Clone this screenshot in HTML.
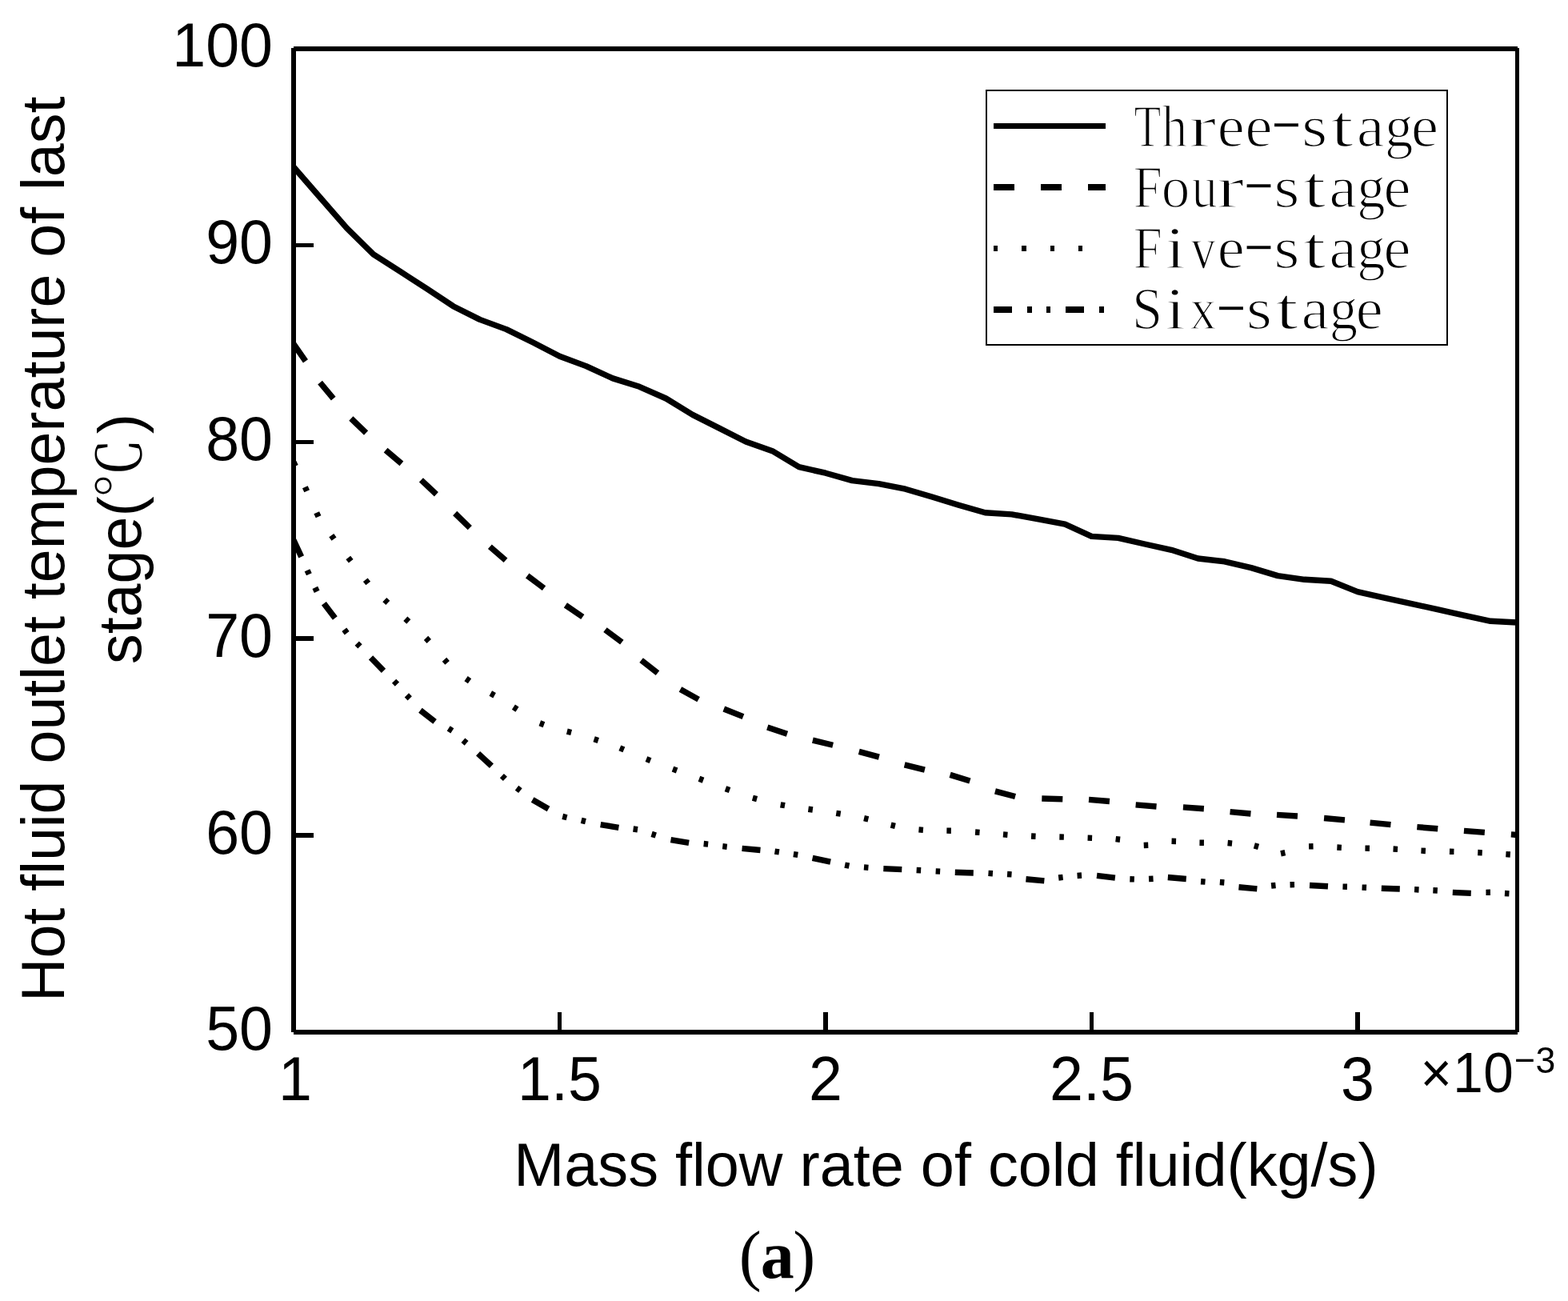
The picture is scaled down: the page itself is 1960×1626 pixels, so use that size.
<!DOCTYPE html>
<html lang="en"><head><meta charset="utf-8">
<title>Hot fluid outlet temperature of last stage vs mass flow rate of cold fluid</title>
<style>
html,body{margin:0;padding:0;background:#fff;}
body{width:1960px;height:1626px;overflow:hidden;}
svg{display:block;}
.sans{font-family:"Liberation Sans",Arial,Helvetica,sans-serif;fill:#000;}
.serif{font-family:"Liberation Serif","Times New Roman",serif;fill:#000;}
.cjk{font-family:"Liberation Sans","Noto Serif CJK SC","Noto Sans CJK SC",sans-serif;}
.ax{stroke:#000;fill:none;}
.cv{stroke:#000;fill:none;stroke-width:7.4;stroke-linejoin:round;stroke-linecap:butt;}
</style></head><body>
<svg width="1960" height="1626" viewBox="0 0 1960 1626">
<rect x="0" y="0" width="1960" height="1626" fill="#fff"/>
<defs><clipPath id="plotarea"><rect x="366" y="61" width="1531" height="1229"/></clipPath></defs>
<g id="curves" clip-path="url(#plotarea)">
<polyline id="three-stage" class="cv" points="367,208.8 400.25,247 433.5,285.1 466.75,317.8 500,339.2 533.25,360.6 566.5,382.7 599.75,399.4 633,411.6 666.25,428 699.5,445.3 732.75,457.6 766,472.9 799.25,483.3 832.5,498 865.75,518.4 899,535.1 932.25,552 965.5,563.7 998.75,583.7 1032,591.2 1065.25,600.6 1098.5,604.7 1131.75,611.2 1165,621 1198.25,631.2 1231.5,640.8 1264.75,642.9 1298,648.9 1331.25,655.1 1364.5,670.4 1397.75,672.4 1431,680 1464.25,687.3 1497.5,698 1530.75,701.8 1564,709.6 1597.25,719.6 1630.5,724.3 1663.75,726.3 1697,739.6 1730.25,747.1 1763.5,754.3 1796.75,761.6 1830,769.2 1863.25,776.3 1896.5,778"/>
<path id="four-stage" class="cv" d="M367 430L381.94 451.28 M400.07 478.22L416.73 498.18 M438.85 522.97L457.55 541.03 M482.09 562.59L501.91 579.41 M526.41 599.92L545.39 617.68 M568.71 641.51L587.29 659.69 M612.38 683.28L632.02 700.32 M659.21 719.48L679.99 735.12 M706.89 756.33L728.31 771.07 M756.46 787.15L777.34 802.65 M801.6 825.04L822 841.16 M850.45 861.47L873.15 874.13 M904.83 885.98L928.97 895.62 M959.25 909.03L983.95 917.17 M1015.87 925.13L1041.13 931.27 M1073.75 939.31L1098.85 946.09 M1130.68 955.89L1155.92 962.11 M1187.58 968.35L1212.42 976.05 M1243.93 988.87L1269.07 995.53 M1302.31 998L1328.29 998.8 M1361.04 999.36L1386.96 1001.44 M1419.64 1005.85L1445.56 1007.95 M1478.93 1008.87L1504.87 1010.73 M1537.55 1014.66L1563.45 1016.94 M1596.02 1018.41L1621.98 1019.99 M1655.05 1022.52L1680.95 1024.88 M1712.56 1028.14L1738.44 1030.66 M1771.35 1033.6L1797.25 1035.8 M1829.94 1038.4L1855.86 1040.4 M1888.87 1042.92L1896.5 1043.5"/>
<path id="five-stage" class="cv" d="M367 577.5L369.32 582.48 M381.34 608.71L383.66 613.69 M395.74 640.81L398.06 645.79 M414.29 669.17L417.51 673.63 M435.27 696.97L438.73 701.23 M456.77 724.77L460.23 729.03 M480.77 749.64L484.83 753.36 M506.81 773.2L510.79 777 M532.53 797.39L536.27 801.41 M555.47 824.25L559.13 828.35 M582.56 848.11L587.04 851.29 M613.29 866.57L618.11 869.23 M641.9 883.7L646.5 886.7 M674.82 903.74L679.98 905.66 M708.78 914.17L714.12 915.53 M742.58 923.8L747.82 925.5 M774.81 934.85L779.89 936.95 M807.94 948.65L813.06 950.65 M840.97 961.15L846.13 963.05 M873.93 973.32L879.07 975.28 M906.91 985.72L912.09 987.58 M940.85 997.22L946.15 998.68 M975.64 1005.78L981.06 1006.72 M1010.42 1011.23L1015.88 1011.97 M1045.28 1016.32L1050.72 1017.18 M1080.03 1022.66L1085.37 1023.94 M1113.63 1031.16L1118.97 1032.44 M1148.46 1036.87L1153.94 1037.33 M1183.35 1038.16L1188.85 1038.24 M1219.06 1040.01L1224.54 1040.39 M1253.96 1042.87L1259.44 1043.33 M1289.05 1044.96L1294.55 1045.24 M1324.35 1046.03L1329.85 1046.17 M1359.6 1047.15L1365.1 1047.35 M1394.62 1048.58L1400.08 1049.22 M1429.75 1056.52L1435.25 1056.28 M1464.55 1051.31L1470.05 1051.49 M1499.45 1053.22L1504.95 1053.28 M1534.61 1053.53L1540.09 1054.07 M1567.81 1056.83L1573.09 1058.37 M1601.01 1066.87L1606.39 1065.73 M1636.05 1057.88L1641.55 1057.72 M1671.35 1059.06L1676.85 1059.34 M1706.45 1060.15L1711.95 1060.25 M1741.55 1061.05L1747.05 1061.35 M1776.45 1063.17L1781.95 1063.43 M1811.95 1064.24L1817.45 1064.36 M1847.25 1065.56L1852.75 1065.84 M1882.36 1067.62L1887.84 1067.98"/>
<path id="six-stage" class="cv" d="M367 675L376.67 695.87 M384.04 712.71L386.36 717.69 M393.84 734.41L396.16 739.39 M404.89 754.24L418.81 772.56 M430.33 786.81L433.67 791.19 M446.18 804.04L450.02 807.96 M463.51 821.83L479.49 838.37 M492.59 851.22L496.41 855.18 M508.37 868.94L512.23 872.86 M525.43 887.73L543.57 901.87 M560.68 910.32L565.32 913.28 M578.93 925.29L583.07 928.91 M597.57 941.68L614.43 957.32 M627.39 969.62L631.41 973.38 M646.01 984.73L650.39 988.07 M665.64 999.44L685.56 1010.96 M703.23 1020.45L708.57 1021.75 M726.63 1025.35L731.97 1026.65 M750.7 1030.7L773.4 1034.4 M791.58 1036.03L797.02 1036.77 M814.58 1042.38L819.82 1044.02 M838.47 1049.54L861.13 1053.46 M879.66 1054.53L885.14 1055.07 M903.27 1057.69L908.73 1058.31 M927.55 1060.32L950.45 1062.48 M968.48 1064.09L973.92 1064.91 M991.88 1067.59L997.32 1068.41 M1015.61 1072.33L1038.09 1077.17 M1056.11 1081.1L1061.49 1082.2 M1079.96 1083.88L1085.44 1084.32 M1104.31 1085.62L1127.29 1086.58 M1145.65 1087.45L1151.15 1087.75 M1169.65 1088.85L1175.15 1089.15 M1193.8 1090.27L1216.8 1090.93 M1235.46 1091.41L1240.94 1091.79 M1259.06 1092.51L1264.54 1092.89 M1282.45 1098.74L1305.35 1100.86 M1323.17 1097.02L1328.63 1096.38 M1346.56 1094.44L1352.04 1094.06 M1371.03 1094.44L1393.87 1097.16 M1412.35 1098.7L1417.85 1098.9 M1436.05 1098.55L1441.55 1098.25 M1459.84 1096.56L1482.76 1098.44 M1501.06 1101.73L1506.54 1102.17 M1524.86 1102.53L1530.34 1102.97 M1548.45 1108.8L1571.35 1110.9 M1589.07 1107.04L1594.53 1106.46 M1612.55 1105.75L1618.05 1105.65 M1637.02 1106.44L1659.98 1107.76 M1678.45 1108.11L1683.95 1108.29 M1702.55 1109.08L1708.05 1109.32 M1726.81 1110.19L1749.79 1111.01 M1768.05 1111.66L1773.55 1111.94 M1791.35 1112.76L1796.85 1113.04 M1815.81 1115.38L1838.79 1116.42 M1857.45 1115.33L1862.95 1115.27 M1880.95 1116.54L1886.45 1116.86"/>
</g>
<g id="axes" class="ax" shape-rendering="crispEdges">
<rect x="364" y="60" width="6" height="1230" fill="#000" stroke="none"/>
<rect x="1894" y="60" width="5" height="1230" fill="#000" stroke="none"/>
<rect x="367" y="58" width="1530" height="6" fill="#000" stroke="none"/>
<rect x="367" y="1287" width="1530" height="6" fill="#000" stroke="none"/>
<rect x="367" y="304" width="25" height="5" fill="#000" stroke="none"/>
<rect x="367" y="550" width="25" height="5" fill="#000" stroke="none"/>
<rect x="367" y="795" width="25" height="6" fill="#000" stroke="none"/>
<rect x="367" y="1041" width="25" height="6" fill="#000" stroke="none"/>
<rect x="697" y="1265" width="5" height="25" fill="#000" stroke="none"/>
<rect x="1029" y="1265" width="6" height="25" fill="#000" stroke="none"/>
<rect x="1362" y="1265" width="5" height="25" fill="#000" stroke="none"/>
<rect x="1694" y="1265" width="6" height="25" fill="#000" stroke="none"/>
</g>
<g id="ticklabels" class="sans">
<text transform="translate(341,83) scale(1,1.025)" font-size="75.4" text-anchor="end">100</text>
<text transform="translate(341,328.9) scale(1,1.025)" font-size="75.4" text-anchor="end">90</text>
<text transform="translate(341,574.8) scale(1,1.025)" font-size="75.4" text-anchor="end">80</text>
<text transform="translate(341,820.6) scale(1,1.025)" font-size="75.4" text-anchor="end">70</text>
<text transform="translate(341,1066.5) scale(1,1.025)" font-size="75.4" text-anchor="end">60</text>
<text transform="translate(341,1312.4) scale(1,1.025)" font-size="75.4" text-anchor="end">50</text>
<text transform="translate(369,1375) scale(1,1.025)" font-size="75.4" text-anchor="middle">1</text>
<text transform="translate(699.5,1375) scale(1,1.025)" font-size="75.4" text-anchor="middle">1.5</text>
<text transform="translate(1032,1375) scale(1,1.025)" font-size="75.4" text-anchor="middle">2</text>
<text transform="translate(1364.5,1375) scale(1,1.025)" font-size="75.4" text-anchor="middle">2.5</text>
<text transform="translate(1697,1375) scale(1,1.025)" font-size="75.4" text-anchor="middle">3</text>
<text transform="translate(0,1365) scale(1,1.055)" font-size="67.5" x="1775.4 1816.3 1854.2">×10<tspan x="1893 1919.5" dy="-22.9" font-size="44.6">−3</tspan></text>
</g>
<g id="axislabels" class="sans">
<text transform="translate(1182.4,1482)" font-size="75.65" text-anchor="middle">Mass flow rate of cold fluid(kg/s)</text>
<text transform="translate(79.8,686.3) rotate(-90)" font-size="75.4" text-anchor="middle">Hot fluid outlet temperature of last</text>
<text transform="translate(176.4,673.6) rotate(-90)" font-size="75.4" text-anchor="middle" aria-label="stage(℃)">stage(<tspan class="cjk" dx="-2.5">℃</tspan><tspan dx="5.3">)</tspan></text>
</g>
<g id="legend">
<rect x="1233" y="113" width="576" height="318" fill="#fff" stroke="#000" stroke-width="2" shape-rendering="crispEdges"/>
<g stroke="#000" fill="none" shape-rendering="crispEdges">
<line x1="1242" y1="157.5" x2="1382" y2="157.5" stroke-width="7"/>
<line x1="1242" y1="234" x2="1382" y2="234" stroke-width="8" stroke-dasharray="26 33"/>
<line x1="1242" y1="310.5" x2="1382" y2="310.5" stroke-width="7" stroke-dasharray="5.3 30"/>
<line x1="1242" y1="387" x2="1382" y2="387" stroke-width="8" stroke-dasharray="23 19 5.5 18 5.5 19"/>
</g>
<g class="serif" font-size="73" stroke="#fff" stroke-width="1.6" paint-order="fill stroke" stroke-linejoin="round">
<text y="182.8" aria-label="Three-stage"><tspan x="1417.58" textLength="33.76" lengthAdjust="spacingAndGlyphs">T</tspan><tspan x="1452.26" textLength="31.8" lengthAdjust="spacingAndGlyphs">h</tspan><tspan x="1486.11" textLength="34.42" lengthAdjust="spacingAndGlyphs">r</tspan><tspan x="1521.56" textLength="34.35" lengthAdjust="spacingAndGlyphs">e</tspan><tspan x="1556.16" textLength="34.35" lengthAdjust="spacingAndGlyphs">e</tspan><tspan x="1587.12" dy="-8.5" textLength="41.84" lengthAdjust="spacingAndGlyphs">-</tspan><tspan x="1626.97" dy="8.5" textLength="32.35" lengthAdjust="spacingAndGlyphs">s</tspan><tspan x="1663.37" textLength="28.76" lengthAdjust="spacingAndGlyphs">t</tspan><tspan x="1695.82" textLength="34.88" lengthAdjust="spacingAndGlyphs">a</tspan><tspan x="1730.93" textLength="35.43" lengthAdjust="spacingAndGlyphs">g</tspan><tspan x="1763.76" textLength="34.35" lengthAdjust="spacingAndGlyphs">e</tspan></text>
<text y="258.9" aria-label="Four-stage"><tspan x="1416.71" textLength="36.05" lengthAdjust="spacingAndGlyphs">F</tspan><tspan x="1451.87" textLength="35.56" lengthAdjust="spacingAndGlyphs">o</tspan><tspan x="1489.53" textLength="32.3" lengthAdjust="spacingAndGlyphs">u</tspan><tspan x="1520.71" textLength="34.42" lengthAdjust="spacingAndGlyphs">r</tspan><tspan x="1552.52" dy="-8.5" textLength="41.84" lengthAdjust="spacingAndGlyphs">-</tspan><tspan x="1592.37" dy="8.5" textLength="32.35" lengthAdjust="spacingAndGlyphs">s</tspan><tspan x="1628.77" textLength="28.76" lengthAdjust="spacingAndGlyphs">t</tspan><tspan x="1661.22" textLength="34.88" lengthAdjust="spacingAndGlyphs">a</tspan><tspan x="1696.33" textLength="35.43" lengthAdjust="spacingAndGlyphs">g</tspan><tspan x="1729.16" textLength="34.35" lengthAdjust="spacingAndGlyphs">e</tspan></text>
<text y="335" aria-label="Five-stage"><tspan x="1416.71" textLength="36.05" lengthAdjust="spacingAndGlyphs">F</tspan><tspan x="1456.22" textLength="25.98" lengthAdjust="spacingAndGlyphs">i</tspan><tspan x="1488.83" textLength="30.79" lengthAdjust="spacingAndGlyphs">v</tspan><tspan x="1521.56" textLength="34.35" lengthAdjust="spacingAndGlyphs">e</tspan><tspan x="1552.52" dy="-8.5" textLength="41.84" lengthAdjust="spacingAndGlyphs">-</tspan><tspan x="1592.37" dy="8.5" textLength="32.35" lengthAdjust="spacingAndGlyphs">s</tspan><tspan x="1628.77" textLength="28.76" lengthAdjust="spacingAndGlyphs">t</tspan><tspan x="1661.22" textLength="34.88" lengthAdjust="spacingAndGlyphs">a</tspan><tspan x="1696.33" textLength="35.43" lengthAdjust="spacingAndGlyphs">g</tspan><tspan x="1729.16" textLength="34.35" lengthAdjust="spacingAndGlyphs">e</tspan></text>
<text y="411.1" aria-label="Six-stage"><tspan x="1415.04" textLength="38.13" lengthAdjust="spacingAndGlyphs">S</tspan><tspan x="1456.22" textLength="25.98" lengthAdjust="spacingAndGlyphs">i</tspan><tspan x="1487.6" textLength="32.82" lengthAdjust="spacingAndGlyphs">x</tspan><tspan x="1517.92" dy="-8.5" textLength="41.84" lengthAdjust="spacingAndGlyphs">-</tspan><tspan x="1557.77" dy="8.5" textLength="32.35" lengthAdjust="spacingAndGlyphs">s</tspan><tspan x="1594.17" textLength="28.76" lengthAdjust="spacingAndGlyphs">t</tspan><tspan x="1626.62" textLength="34.88" lengthAdjust="spacingAndGlyphs">a</tspan><tspan x="1661.73" textLength="35.43" lengthAdjust="spacingAndGlyphs">g</tspan><tspan x="1694.56" textLength="34.35" lengthAdjust="spacingAndGlyphs">e</tspan></text>
</g>
</g>
<text class="serif" x="968.5" y="1596.8" font-size="84" text-anchor="middle" aria-label="(a)"><tspan dx="3">(</tspan><tspan font-weight="bold" dx="-1">a</tspan><tspan dx="-1.5">)</tspan></text>
</svg>
</body></html>
